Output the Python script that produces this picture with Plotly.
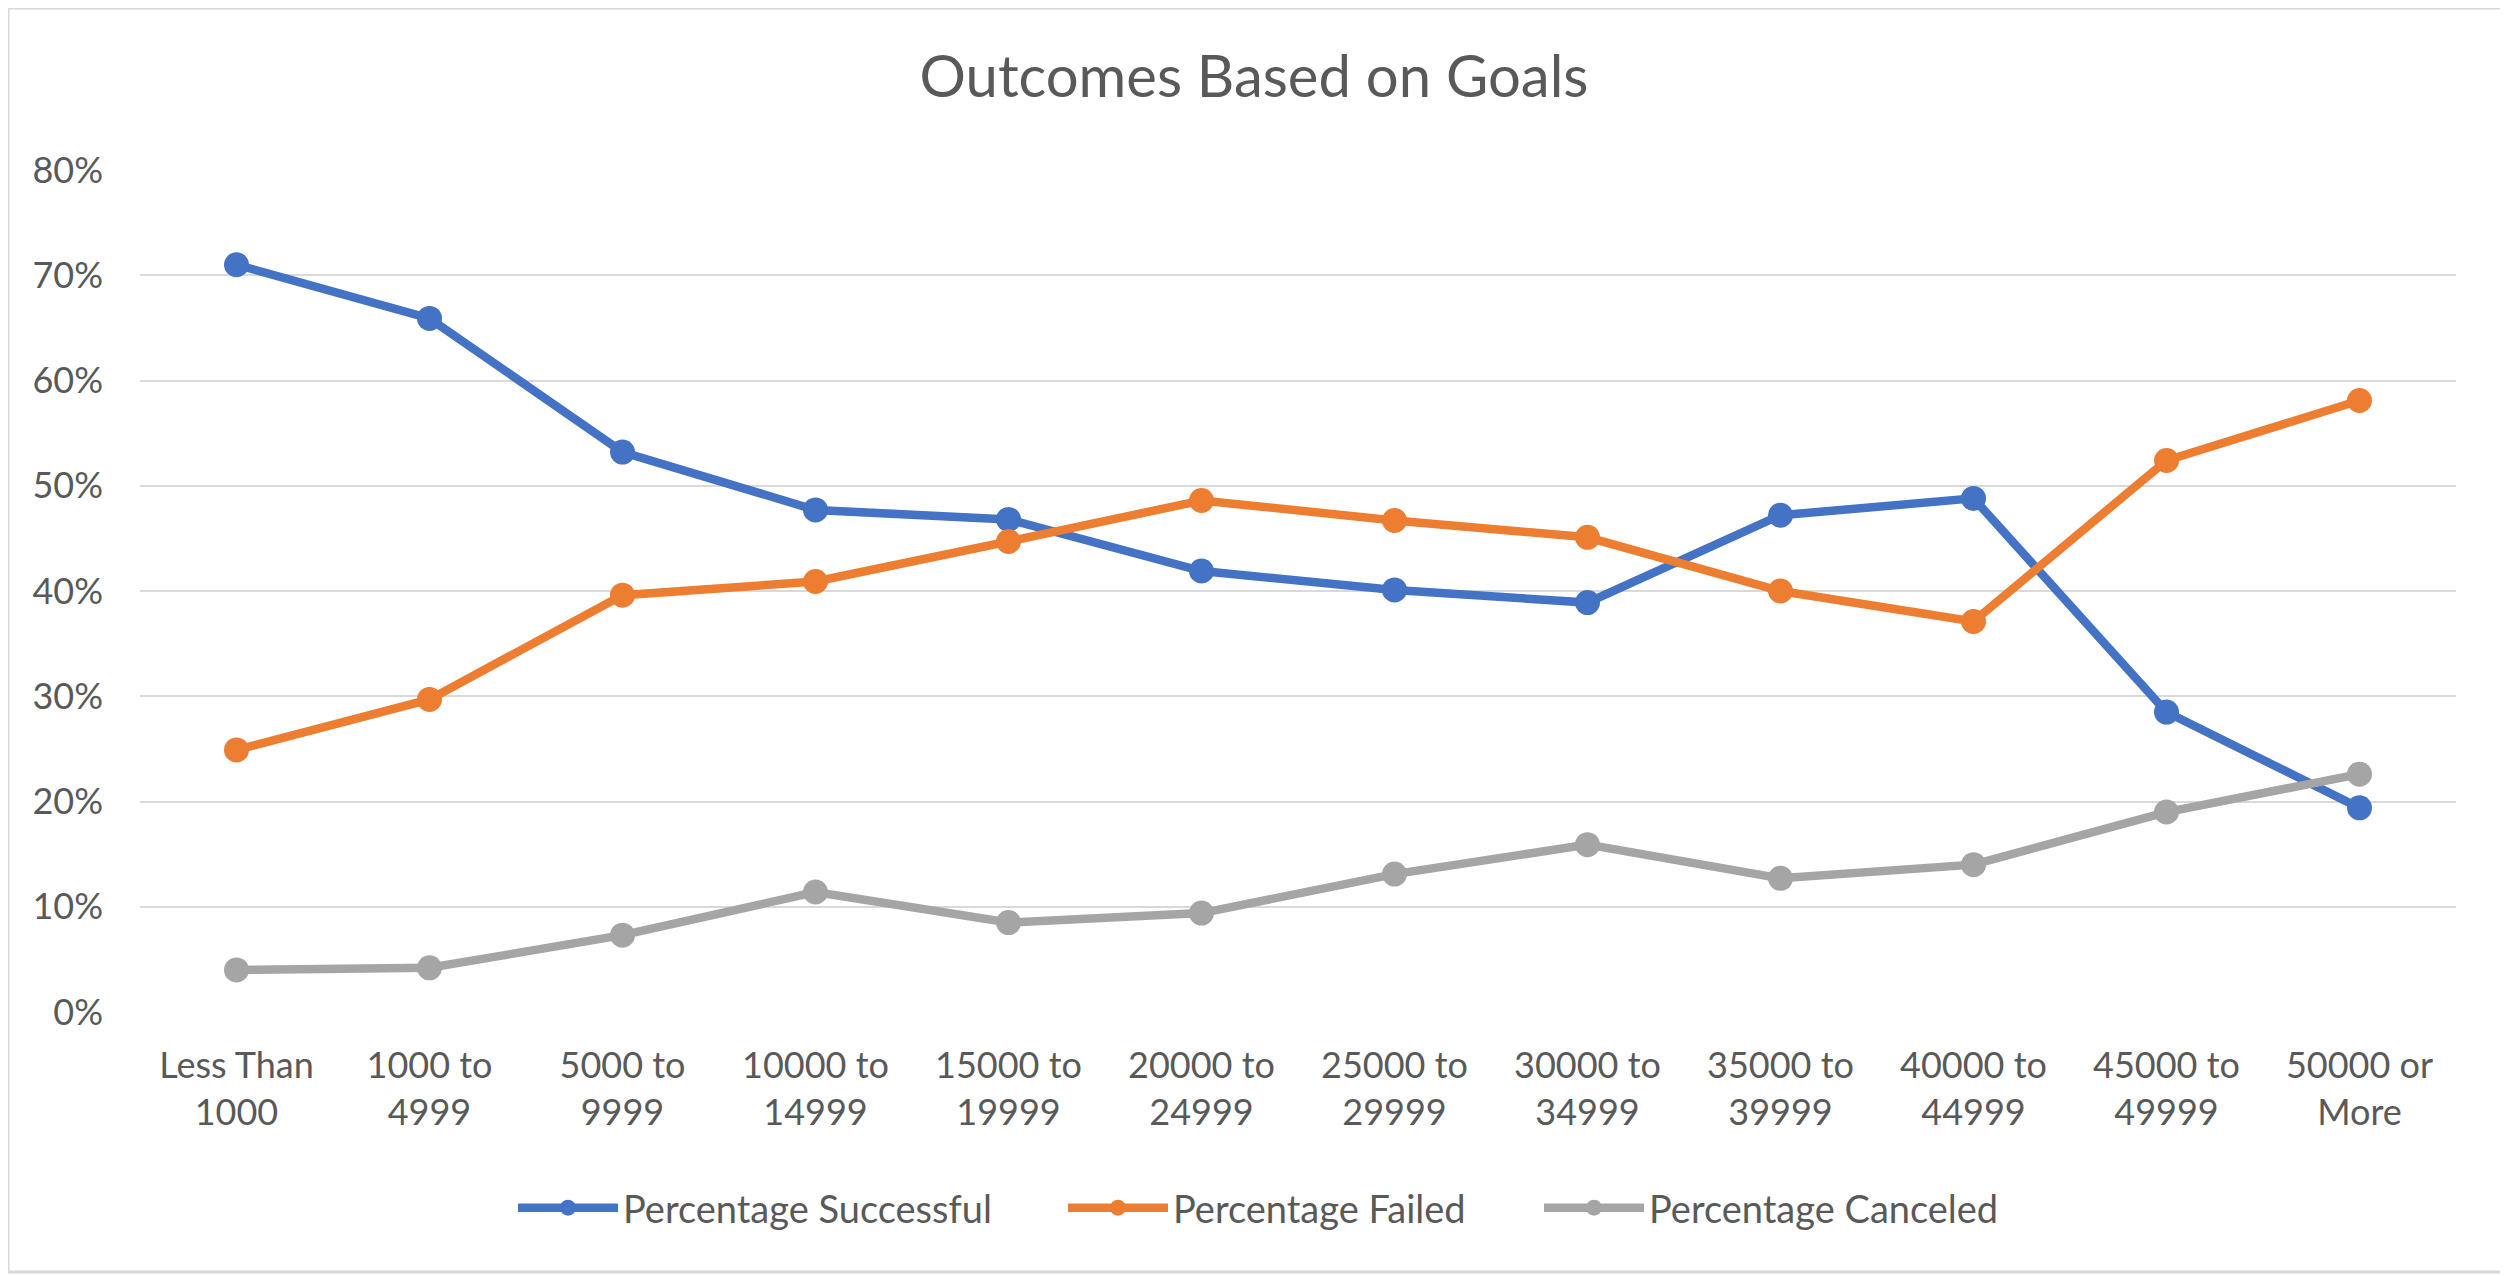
import plotly.graph_objects as go

categories = ["Less Than<br>1000", "1000 to<br>4999", "5000 to<br>9999", "10000 to<br>14999",
              "15000 to<br>19999", "20000 to<br>24999", "25000 to<br>29999", "30000 to<br>34999",
              "35000 to<br>39999", "40000 to<br>44999", "45000 to<br>49999", "50000 or<br>More"]
pct_successful = [0.710, 0.659, 0.532, 0.477, 0.468, 0.419, 0.401, 0.389, 0.472, 0.488, 0.285, 0.194]
pct_failed = [0.249, 0.297, 0.396, 0.409, 0.447, 0.486, 0.467, 0.451, 0.400, 0.371, 0.524, 0.581]
pct_canceled = [0.040, 0.042, 0.073, 0.114, 0.085, 0.094, 0.131, 0.159, 0.127, 0.140, 0.190, 0.226]
series_names = ["Percentage Successful", "Percentage Failed", "Percentage Canceled"]
colors = ["#4472C4", "#ED7D31", "#A5A5A5"]

OFF = 8  # default page body margin
W, H = 2508 - OFF, 1276 - OFF
ML, MR, MT, MB = 140 - OFF, 52, 170 - OFF, 264
FONT = "Lato"
TXT = "#595959"
legend_ids = ["legend", "legend2", "legend3"]
legend_left = [520, 1070, 1546]  # screen px where each legend entry starts

fig = go.Figure()
for name, vals, col, lid in zip(series_names, [pct_successful, pct_failed, pct_canceled], colors, legend_ids):
    fig.add_trace(go.Scatter(
        x=categories, y=vals, name=name, mode="lines+markers",
        line=dict(color=col, width=8.5),
        marker=dict(color=col, size=25, symbol="circle"),
        legend=lid,
    ))

pw = W - ML - MR
ph = H - MT - MB
def px_x(p):
    return (p - ML) / pw
def px_y(p):
    return (H - MB - p) / ph

fig.add_shape(type="rect", xref="paper", yref="paper",
              x0=px_x(0), x1=px_x(W - 4), y0=px_y(H - 4), y1=px_y(0),
              line=dict(color="#D9D9D9", width=3), fillcolor="rgba(0,0,0,0)", layer="below")

legends = {}
for lid, lx in zip(legend_ids, legend_left):
    legends[lid] = dict(orientation="h", x=(lx - 7 - OFF) / W, xanchor="left", xref="container",
                        y=1 - (1208 - OFF) / H, yanchor="middle", yref="container",
                        font=dict(family=FONT, size=38, color=TXT),
                        itemwidth=100, bgcolor="rgba(0,0,0,0)")

fig.update_layout(
    width=W, height=H,
    margin=dict(l=ML, r=MR, t=MT, b=MB, autoexpand=False),
    paper_bgcolor="white", plot_bgcolor="white",
    font=dict(family=FONT, color=TXT, size=36),
    title=dict(text="Outcomes Based on Goals", x=(1254 - OFF) / W, xref="container", xanchor="center",
               y=1 - (77 - OFF) / H, yref="container", yanchor="middle",
               font=dict(family=FONT, size=58, color=TXT)),
    showlegend=True,
    hovermode=False,
    **legends,
)
fig.update_xaxes(type="category", range=[-0.5, len(categories) - 0.5],
                 showgrid=False, showline=False, zeroline=False,
                 ticks="", tickfont=dict(family=FONT, size=36, color=TXT),
                 ticklabelstandoff=29, tickangle=0, automargin=False)
fig.update_yaxes(range=[0, 0.8], dtick=0.1, tickformat=".0%", showgrid=True,
                 gridcolor="#D9D9D9", gridwidth=2, zeroline=False, showline=False,
                 ticks="", tickfont=dict(family=FONT, size=36, color=TXT),
                 ticklabelstandoff=36, automargin=False)

fig.write_html("out.html")
